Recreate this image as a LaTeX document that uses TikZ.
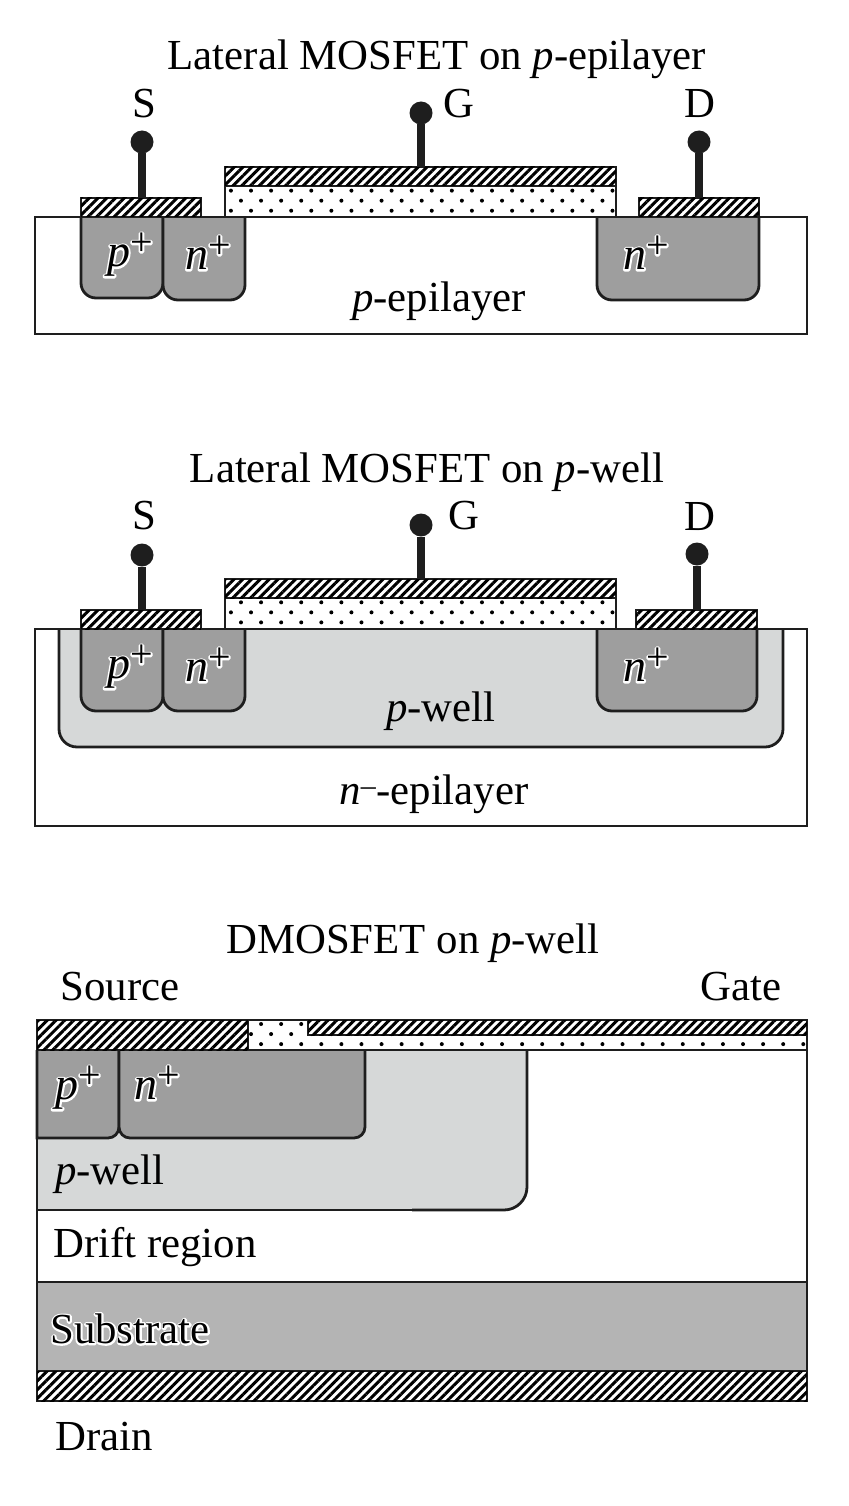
\documentclass[tikz,border=0pt]{standalone}
\usepackage{fontspec}
\setmainfont{Liberation Serif}
\usetikzlibrary{patterns.meta}

\definecolor{edgecol}{HTML}{1E1E1E}
\definecolor{dopedcol}{HTML}{9E9E9E}
\definecolor{wellcol}{HTML}{D6D8D8}
\definecolor{subcol}{HTML}{B4B4B4}

\newcommand{\halo}[1]{\leavevmode\rlap{\special{pdf:code q 1 j 1 J 3.6 w 1 1 1 RG 1 1 1 rg 2 Tr}#1\special{pdf:code 0 Tr Q}}#1}
\newcommand{\pplus}{\halo{\fontsize{46}{46}\selectfont\textit{p}\raisebox{11pt}{\fontsize{40}{40}\selectfont +}}}
\newcommand{\nplus}{\halo{\fontsize{46}{46}\selectfont\textit{n}\raisebox{11pt}{\fontsize{40}{40}\selectfont +}}}

\tikzset{
	x=1pt,y=-1pt,
	every node/.style={font=\fontsize{42.8}{48}\selectfont,text=black,inner sep=0pt,outer sep=0pt},
	metal/.style={draw=edgecol,line width=2.8pt,anchor=north west,fill=white,
		postaction={pattern={Lines[angle=45,distance=6.2pt,line width=3pt]},pattern color=black}},
	oxide/.style={draw=edgecol,line width=2.8pt,anchor=north west,fill=white,
		postaction={pattern={Dots[angle=45,distance=14.2pt,radius=2pt]},pattern color=black}},
	doped/.style={draw=edgecol,line width=2.8pt,fill=dopedcol,rounded corners=15pt},
	well/.style={draw=edgecol,line width=2.8pt,fill=wellcol,rounded corners=18pt},
	bulk/.style={draw=edgecol,line width=2.8pt},
	terminal/.style={circle,fill=edgecol,minimum size=23pt},
	wire/.style={draw=edgecol,line width=7.5pt}
}

\begin{document}
\begin{tikzpicture}
	\useasboundingbox (0,0) rectangle (848,1506);

	% lateral device on epilayer
	\node (title1) at (437,59) {Lateral MOSFET on \textit{p}-epilayer};
	\path[doped] (81,217) -- (81,298) -- (163,298) -- (163,217);
	\path[doped] (163,217) -- (163,300) -- (245,300) -- (245,217);
	\path[doped] (597,217) -- (597,300) -- (759,300) -- (759,217);
	\draw[bulk] (35,217) rectangle (807,334);
	\node[oxide,minimum width=391pt,minimum height=31pt] (oxide1) at (225,186) {};
	\node[metal,minimum width=391pt,minimum height=19pt] (gmetal1) at (225,167) {};
	\node[metal,minimum width=120pt,minimum height=19pt] (smetal1) at (81,198) {};
	\node[metal,minimum width=120pt,minimum height=19pt] (dmetal1) at (639,198) {};
	\node[terminal] (sterm1) at (142,142) {};
	\node[terminal] (gterm1) at (421,113) {};
	\node[terminal] (dterm1) at (699,142) {};
	\draw[wire] (sterm1) -- (sterm1 |- smetal1.north);
	\draw[wire] (gterm1) -- (gterm1 |- gmetal1.north);
	\draw[wire] (dterm1) -- (dterm1 |- dmetal1.north);
	\node (slabel1) at (144,104) {S};
	\node (glabel1) at (459,104) {G};
	\node (dlabel1) at (700,104) {D};
	\node (pplus1) at (130,255) {\pplus};
	\node (nplus1) at (208,253) {\nplus};
	\node (nplus2) at (646,253) {\nplus};
	\node (epi1) at (439,301) {\textit{p}-epilayer};

	% lateral device on well
	\node (title2) at (427,472) {Lateral MOSFET on \textit{p}-well};
	\path[well] (59,629) -- (59,747) -- (783,747) -- (783,629);
	\path[doped] (81,629) -- (81,711) -- (163,711) -- (163,629);
	\path[doped] (163,629) -- (163,711) -- (245,711) -- (245,629);
	\path[doped] (597,629) -- (597,711) -- (757,711) -- (757,629);
	\draw[bulk] (35,629) rectangle (807,826);
	\node[oxide,minimum width=391pt,minimum height=31pt] (oxide2) at (225,598) {};
	\node[metal,minimum width=391pt,minimum height=19pt] (gmetal2) at (225,579) {};
	\node[metal,minimum width=120pt,minimum height=19pt] (smetal2) at (81,610) {};
	\node[metal,minimum width=121pt,minimum height=19pt] (dmetal2) at (636,610) {};
	\node[terminal] (sterm2) at (142,555) {};
	\node[terminal] (gterm2) at (421,525) {};
	\node[terminal] (dterm2) at (697,554) {};
	\draw[wire] (sterm2) -- (sterm2 |- smetal2.north);
	\draw[wire] (gterm2) -- (gterm2 |- gmetal2.north);
	\draw[wire] (dterm2) -- (dterm2 |- dmetal2.north);
	\node (slabel2) at (144,516) {S};
	\node (glabel2) at (464,516) {G};
	\node (dlabel2) at (700,517) {D};
	\node (pplus3) at (130,667) {\pplus};
	\node (nplus3) at (208,665) {\nplus};
	\node (nplus4) at (646,665) {\nplus};
	\node (well2) at (441,711) {\textit{p}-well};
	\node (epi2) at (434,794) {\textit{n}\textsuperscript{--}-epilayer};

	% vertical device
	\node (title3) at (413,943) {DMOSFET on \textit{p}-well};
	\node (source3) at (120,987) {Source};
	\node (gate3) at (741,987) {Gate};
	\path[fill=wellcol] (37,1050) -- (37,1210) -- (504,1210) arc[start angle=-90,end angle=0,radius=23pt] -- (527,1050) -- cycle;
	\draw[line width=1.5pt,draw=edgecol] (37,1210) -- (412,1210);
	\draw[bulk] (412,1210) -- (504,1210) arc[start angle=-90,end angle=0,radius=23pt] -- (527,1050);
	\path[doped,sharp corners] (37,1050) -- (37,1138) -- (108,1138) arc[start angle=-90,end angle=0,radius=11pt] -- (119,1050);
	\path[doped,rounded corners=11pt] (119,1050) -- (119,1138) -- (365,1138) -- (365,1050);
	\path[fill=subcol] (37,1282) rectangle (807,1371);
	\draw[bulk] (37,1282) -- (807,1282);
	\draw[bulk] (37,1020) rectangle (807,1401);
	\draw[oxide] (248,1020) -- (807,1020) -- (807,1050) -- (248,1050) -- cycle;
	\node[metal,minimum width=499pt,minimum height=15pt] (gmetal3) at (308,1020) {};
	\node[metal,minimum width=211pt,minimum height=30pt] (smetal3) at (37,1020) {};
	\node[metal,minimum width=770pt,minimum height=30pt] (dmetal3) at (37,1371) {};
	\node (pplus5) at (78,1088) {\pplus};
	\node (nplus5) at (157,1083) {\nplus};
	\node (well3) at (110,1174) {\textit{p}-well};
	\node (drift3) at (155,1247) {Drift region};
	\node (sub3) at (130,1329) {\halo{Substrate}};
	\node (drain3) at (104,1437) {Drain};
\end{tikzpicture}
\end{document}
